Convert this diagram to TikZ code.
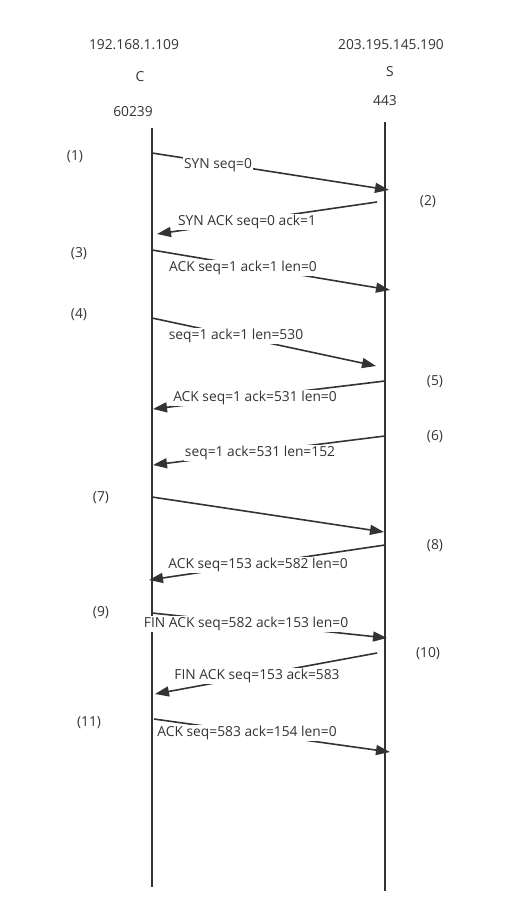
\documentclass[tikz,border=0pt]{standalone}
\usepackage{fontspec}
\setmainfont{Open Sans}
\usetikzlibrary{arrows.meta}
\definecolor{ink}{HTML}{333333}
\begin{document}
\begin{tikzpicture}[x=1pt,y=-1pt,
  txt/.style={font=\fontsize{13.8}{15}\selectfont, text=ink, inner sep=1pt},
  lbl/.style={txt, fill=white},
  life/.style={draw=ink, line width=1.6pt},
  msg/.style={draw=ink, line width=1.6pt, -{Triangle[length=14pt,width=10pt]}}]
\useasboundingbox (0,0) rectangle (510,917);
% headers
\node[txt] (cip) at (134,45) {192.168.1.109};
\node[txt] (cname) at (140,77) {C};
\node[txt] (cport) at (133,112) {60239};
\node[txt] (sip) at (391,45) {203.195.145.190};
\node[txt] (sname) at (390,72) {S};
\node[txt] (sport) at (385,101) {443};
% lifelines
\coordinate (ctop) at (152,128); \coordinate (cbot) at (152,887);
\coordinate (stop) at (385,122); \coordinate (sbot) at (385,891);
\draw[life] (ctop) -- (cbot);
\draw[life] (stop) -- (sbot);
% message endpoints
\coordinate (a1) at (152,153); \coordinate (b1) at (389,190);
\coordinate (a2) at (377,202); \coordinate (b2) at (157,234);
\coordinate (a3) at (152,250); \coordinate (b3) at (390,290);
\coordinate (a4) at (152,318); \coordinate (b4) at (376,366);
\coordinate (a5) at (385,381); \coordinate (b5) at (153,409);
\coordinate (a6) at (385,436); \coordinate (b6) at (153,465);
\coordinate (a7) at (152,497); \coordinate (b7) at (384,532);
\coordinate (a8) at (385,545); \coordinate (b8) at (149,580);
\coordinate (a9) at (152,613); \coordinate (b9) at (387,638);
\coordinate (a10) at (377,653); \coordinate (b10) at (155,694);
\coordinate (a11) at (154,719); \coordinate (b11) at (390,752);
\foreach \i in {1,...,11} { \draw[msg] (a\i) -- (b\i); }
% labels
\node[lbl] (l1) at (218,165) {SYN seq=0};
\node[lbl] (l2) at (247,222) {SYN ACK seq=0 ack=1};
\node[lbl] (l3) at (243,268) {ACK seq=1 ack=1 len=0};
\node[lbl] (l4) at (236,336) {seq=1 ack=1 len=530};
\node[lbl] (l5) at (255,398) {ACK seq=1 ack=531 len=0};
\node[lbl] (l6) at (260,453) {seq=1 ack=531 len=152};
\node[lbl] (l8) at (258,565) {ACK seq=153 ack=582 len=0};
\node[lbl] (l9) at (246,624) {FIN ACK seq=582 ack=153 len=0};
\node[lbl] (l10) at (257,676) {FIN ACK seq=153 ack=583};
\node[lbl] (l11) at (247,733) {ACK seq=583 ack=154 len=0};
% step numbers
\node[txt] (n1) at (75,157) {(1)};
\node[txt] (n2) at (428,202) {(2)};
\node[txt] (n3) at (79,254) {(3)};
\node[txt] (n4) at (79,315) {(4)};
\node[txt] (n5) at (435,382) {(5)};
\node[txt] (n6) at (435,437) {(6)};
\node[txt] (n7) at (101,498) {(7)};
\node[txt] (n8) at (435,546) {(8)};
\node[txt] (n9) at (101,613) {(9)};
\node[txt] (n10) at (428,654) {(10)};
\node[txt] (n11) at (89,723) {(11)};
\end{tikzpicture}
\end{document}
